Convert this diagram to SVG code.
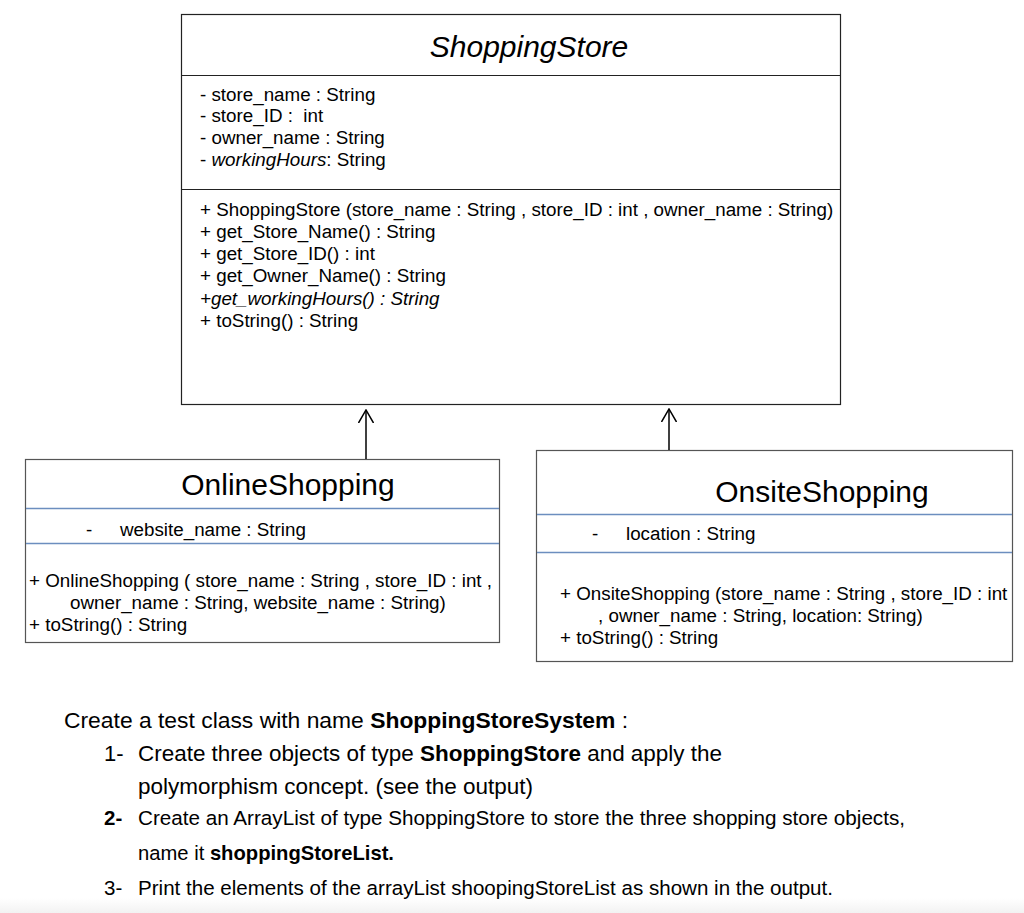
<svg xmlns="http://www.w3.org/2000/svg" width="1024" height="913" viewBox="0 0 1024 913">
<defs>
<marker id="open" viewBox="0 0 14 16" refX="13" refY="8" markerWidth="14" markerHeight="16" markerUnits="userSpaceOnUse" orient="auto">
<path d="M0,0.5 L13,8 L0,15.5" fill="none" stroke="#000" stroke-width="1.5"/>
</marker>
<linearGradient id="bg" x1="0" y1="0" x2="0" y2="1">
<stop offset="0" stop-color="#ffffff"/>
<stop offset="1" stop-color="#f2f2f2"/>
</linearGradient>
<style>
text{font-family:"Liberation Sans",Arial,sans-serif;fill:#000}
.t{font-size:18.8px}
.title{font-size:30px}
.it{font-style:italic}
.box{fill:#fff;stroke:#222;stroke-width:1.2}
.sbox{fill:#fff;stroke:#555;stroke-width:1.2}
.div{stroke:#222;stroke-width:1.2}
.bdiv{stroke:#6c8ebf;stroke-width:1.5}
.p{font-size:22px}
.q{font-size:20.5px}
.b{font-weight:bold}
.conn{stroke:#000;stroke-width:1.5;fill:none}
</style>
</defs>
<rect x="0" y="0" width="1024" height="913" fill="#fff"/>
<rect x="0" y="898" width="1024" height="15" fill="url(#bg)"/>

<g id="ShoppingStore">
<rect class="box" x="181.5" y="14.5" width="659" height="390"/>
<line class="div" x1="181.5" y1="75.5" x2="840.5" y2="75.5"/>
<line class="div" x1="181.5" y1="189.5" x2="840.5" y2="189.5"/>
<text class="title it" x="529" y="57" text-anchor="middle">ShoppingStore</text>
<text class="t" x="200" y="101">- store_name : String</text>
<text class="t" x="200" y="122" xml:space="preserve">- store_ID :  int</text>
<text class="t" x="200" y="144">- owner_name : String</text>
<text class="t" x="200" y="166">- <tspan class="it">workingHours</tspan>: String</text>
<text class="t" x="200" y="216">+ ShoppingStore (store_name : String , store_ID : int , owner_name : String)</text>
<text class="t" x="200" y="238">+ get_Store_Name() : String</text>
<text class="t" x="200" y="260">+ get_Store_ID() : int</text>
<text class="t" x="200" y="282">+ get_Owner_Name() : String</text>
<text class="t it" x="200" y="305">+get_workingHours() : String</text>
<text class="t" x="200" y="327">+ toString() : String</text>
</g>

<g id="OnlineShopping">
<rect class="sbox" x="25.5" y="459.5" width="474" height="183"/>
<line class="bdiv" x1="26" y1="508.5" x2="499" y2="508.5"/>
<line class="bdiv" x1="26" y1="543.5" x2="499" y2="543.5"/>
<text class="title" x="288" y="495" text-anchor="middle">OnlineShopping</text>
<text class="t" x="86" y="536">-</text>
<text class="t" x="120" y="536">website_name : String</text>
<text class="t" x="29" y="587">+ OnlineShopping ( store_name : String , store_ID : int ,</text>
<text class="t" x="70" y="609">owner_name : String, website_name : String)</text>
<text class="t" x="29" y="631">+ toString() : String</text>
</g>

<g id="OnsiteShopping">
<rect class="sbox" x="536.5" y="450.5" width="476" height="211"/>
<line class="bdiv" x1="537" y1="514.5" x2="1012" y2="514.5"/>
<line class="bdiv" x1="537" y1="552.5" x2="1012" y2="552.5"/>
<text class="title" x="822" y="502" text-anchor="middle">OnsiteShopping</text>
<text class="t" x="592" y="540">-</text>
<text class="t" x="626" y="540">location : String</text>
<text class="t" x="560" y="600">+ OnsiteShopping (store_name : String , store_ID : int</text>
<text class="t" x="598" y="622">, owner_name : String, location: String)</text>
<text class="t" x="560" y="644">+ toString() : String</text>
</g>

<g id="connectors">
<line class="conn" x1="366" y1="459" x2="366" y2="410" marker-end="url(#open)"/>
<line class="conn" x1="669" y1="450" x2="669" y2="409" marker-end="url(#open)"/>
</g>

<g id="instructions">
<text class="p" x="64" y="728" textLength="564" lengthAdjust="spacingAndGlyphs">Create a test class with name <tspan class="b">ShoppingStoreSystem</tspan> :</text>
<text class="p" x="104" y="761">1-</text>
<text class="p" x="138" y="761" textLength="584" lengthAdjust="spacingAndGlyphs">Create three objects of type <tspan class="b">ShoppingStore</tspan> and apply the</text>
<text class="p" x="138" y="794" textLength="395" lengthAdjust="spacingAndGlyphs">polymorphism concept. (see the output)</text>
<text class="q b" x="104" y="825">2-</text>
<text class="q" x="138" y="825" textLength="767" lengthAdjust="spacingAndGlyphs">Create an ArrayList of type ShoppingStore to store the three shopping store objects,</text>
<text class="q" x="138" y="860" textLength="256" lengthAdjust="spacingAndGlyphs">name it <tspan class="b">shoppingStoreList.</tspan></text>
<text class="q" x="104" y="895">3-</text>
<text class="q" x="138" y="895" textLength="695" lengthAdjust="spacingAndGlyphs">Print the elements of the arrayList shoopingStoreList as shown in the output.</text>
</g>
</svg>
